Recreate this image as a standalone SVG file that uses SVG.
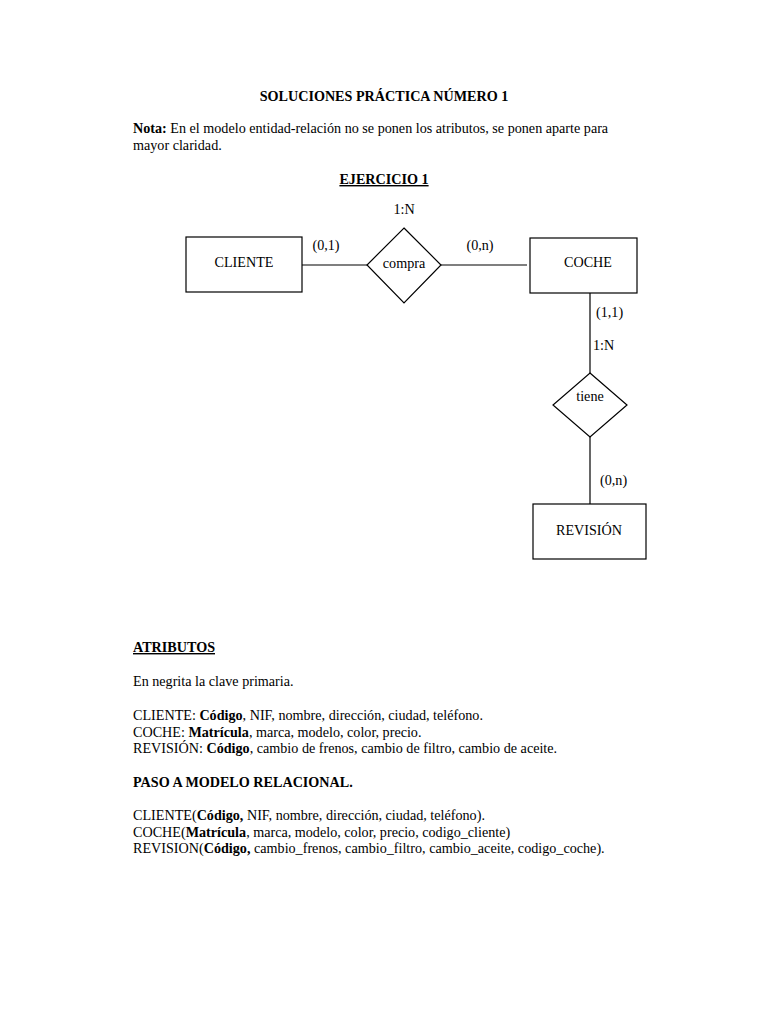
<svg xmlns="http://www.w3.org/2000/svg" width="768" height="1024" viewBox="0 0 768 1024">
<style>
text{font-family:"Liberation Serif","Times New Roman",serif;font-size:14.15px;fill:#000}
.b{font-weight:bold}
.c{text-anchor:middle}
.u{text-decoration:underline}
.shape{fill:#fff;stroke:#000;stroke-width:1.2}
.conn line{stroke:#000;stroke-width:1.2}
</style>
<rect width="768" height="1024" fill="#fff"/>
<text class="b c" x="384" y="101">SOLUCIONES PRÁCTICA NÚMERO 1</text>
<text x="133" y="133"><tspan class="b">Nota:</tspan> En el modelo entidad-relación no se ponen los atributos, se ponen aparte para</text>
<text x="133" y="150">mayor claridad.</text>
<text class="b c u" x="384" y="184">EJERCICIO 1</text>

<g id="connectors" class="conn">
<line x1="302" y1="265" x2="367" y2="265"/>
<line x1="441" y1="265" x2="527" y2="265"/>
<line x1="590" y1="293" x2="590" y2="373"/>
<line x1="590" y1="437" x2="590" y2="504"/>
</g>
<g id="labels">
<text class="c" x="404" y="214">1:N</text>
<text class="c" x="326" y="250">(0,1)</text>
<text class="c" x="480" y="250">(0,n)</text>
<text x="596" y="317">(1,1)</text>
<text x="593" y="350">1:N</text>
<text x="600" y="485">(0,n)</text>
</g>
<g id="cliente">
<rect class="shape" x="186" y="237" width="116" height="55"/>
<text class="c" x="244" y="267">CLIENTE</text>
</g>
<g id="compra">
<polygon class="shape" points="404,228 441,265 404,303 367,265"/>
<text class="c" x="404" y="268">compra</text>
</g>
<g id="coche">
<rect class="shape" x="530" y="238" width="107" height="55"/>
<text class="c" x="588" y="267">COCHE</text>
</g>
<g id="tiene">
<polygon class="shape" points="590,373 627,405 590,437 553,405"/>
<text class="c" x="590" y="401">tiene</text>
</g>
<g id="revision">
<rect class="shape" x="533" y="504" width="113" height="55"/>
<text class="c" x="589" y="535">REVISIÓN</text>
</g>

<text class="b u" x="133" y="652">ATRIBUTOS</text>
<text x="133" y="686">En negrita la clave primaria.</text>
<text x="133" y="720">CLIENTE: <tspan class="b">Código</tspan>, NIF, nombre, dirección, ciudad, teléfono.</text>
<text x="133" y="737">COCHE: <tspan class="b">Matrícula</tspan>, marca, modelo, color, precio.</text>
<text x="133" y="753">REVISIÓN: <tspan class="b">Código</tspan>, cambio de frenos, cambio de filtro, cambio de aceite.</text>
<text class="b" x="133" y="787">PASO A MODELO RELACIONAL.</text>
<text x="133" y="820">CLIENTE(<tspan class="b">Código,</tspan> NIF, nombre, dirección, ciudad, teléfono).</text>
<text x="133" y="837">COCHE(<tspan class="b">Matrícula</tspan>, marca, modelo, color, precio, codigo_cliente)</text>
<text x="133" y="853">REVISION(<tspan class="b">Código,</tspan> cambio_frenos, cambio_filtro, cambio_aceite, codigo_coche).</text>
</svg>
